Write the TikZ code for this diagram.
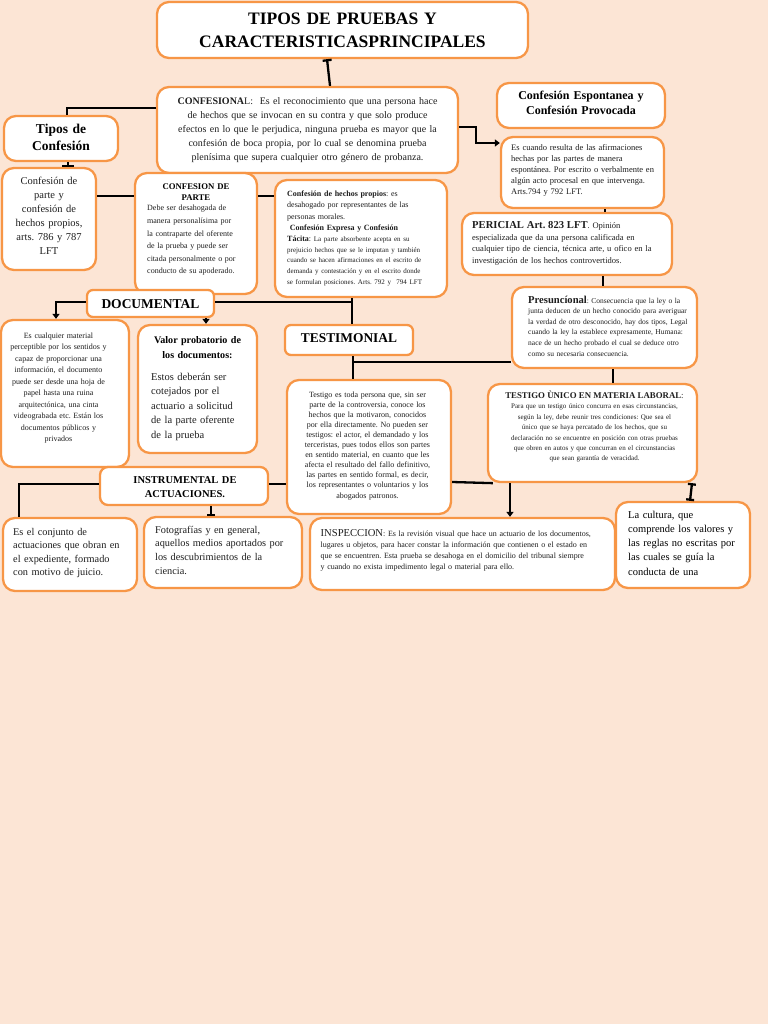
\documentclass[tikz,border=0pt]{standalone}
\usepackage{fontspec}
\setmainfont{Liberation Serif}
\usetikzlibrary{arrows.meta}
\definecolor{bg}{HTML}{FCE5D5}
\definecolor{edge}{HTML}{F79646}
\definecolor{ink}{HTML}{1E1E1E}
\newcommand\fsz[2]{\fontsize{#1}{#2}\selectfont}
\frenchspacing
\tikzset{
  box/.style={draw=edge, line width=2.3pt, rounded corners=12pt, fill=white, inner sep=0pt},
  link/.style={draw=black, line width=2.3pt},
  arr/.style={link, -{Triangle[width=7pt,length=5pt]}},
  txt/.style={inner sep=0pt, text=ink},
  ctxt/.style={txt, anchor=base, align=center},
  ltxt/.style={txt, anchor=base west, align=left},
}
\begin{document}
\begin{tikzpicture}[x=1pt,y=-1pt]
\fill[bg] (0,0) rectangle (768,1024);
\useasboundingbox (0,0) rectangle (768,1024);

% boxes
\node[box, minimum width=371pt, minimum height=56pt] (title) at (342.5,30) {};
\node[box, minimum width=301pt, minimum height=86pt] (conf) at (307.5,130) {};
\node[box, minimum width=114pt, minimum height=45pt] (tipos) at (61,138.5) {};
\node[box, minimum width=168pt, minimum height=45pt] (esp) at (581,105.5) {};
\node[box, minimum width=163pt, minimum height=71pt] (escuando) at (582.5,172.5) {};
\node[box, minimum width=210pt, minimum height=62pt] (pericial) at (567,244) {};
\node[box, minimum width=185pt, minimum height=81pt] (presun) at (604.5,327.5) {};
\node[box, minimum width=209pt, minimum height=98pt] (unico) at (592.5,433) {};
\node[box, minimum width=134pt, minimum height=86pt] (cultura) at (683,545) {};
\node[box, minimum width=94pt, minimum height=102pt] (cparte) at (49,219) {};
\node[box, minimum width=122pt, minimum height=121pt] (cdp) at (196,233.5) {};
\node[box, minimum width=172pt, minimum height=117pt] (hechos) at (361,238.5) {};
\node[box, minimum width=127pt, minimum height=27pt, rounded corners=6pt] (doc) at (150.5,303.5) {};
\node[box, minimum width=128pt, minimum height=147pt] (escual) at (65,393.5) {};
\node[box, minimum width=119pt, minimum height=128pt] (valor) at (197.5,389) {};
\node[box, minimum width=128pt, minimum height=30pt, rounded corners=6pt] (testim) at (349,340) {};
\node[box, minimum width=164pt, minimum height=134pt] (testigo) at (369,447) {};
\node[box, minimum width=168pt, minimum height=38pt, rounded corners=8pt] (instr) at (184,486) {};
\node[box, minimum width=134pt, minimum height=73pt] (conjunto) at (70,554.5) {};
\node[box, minimum width=158pt, minimum height=71pt] (foto) at (223,552.5) {};
\node[box, minimum width=305pt, minimum height=72pt] (insp) at (462.5,554) {};

% connectors
\draw[link, {Bar[width=9pt]}-] ([xshift=-15.5pt]title.south) -- ([xshift=22.5pt]conf.north);
\draw[link] ([yshift=22pt]conf.west) -| ([xshift=6pt]tipos.north);
\draw[arr] ([yshift=3pt]conf.east) -- ++(17,0) |- ([yshift=29.5pt]escuando.west);
\draw[link, -{Bar[width=12pt]}] ([xshift=7pt]tipos.south) -- ([xshift=19pt]cparte.north);
\draw[link] ([yshift=23pt]cparte.east) -- ([yshift=37.5pt]cdp.west);
\draw[link] ([yshift=37.5pt]cdp.east) -- ([yshift=42.5pt]hechos.west);
\coordinate (hs) at ([xshift=-9pt]hechos.south);
\draw[link] (hs) -- ([xshift=3pt]testim.north);
\coordinate (de) at ([yshift=1.5pt]doc.east);
\draw[link] (de) -- (hs |- de);
\draw[arr] ([yshift=1.5pt]doc.west) -| ([xshift=-9pt]escual.north);
\draw[arr] ([xshift=55.5pt]doc.south) -- ([xshift=8.5pt]valor.north);
\coordinate (tv) at ([xshift=4pt]testim.south);
\draw[link] (tv) -- ([xshift=-16pt]testigo.north);
\coordinate (pw) at ([yshift=-34.5pt]presun.west);
\draw[link] (pw) -- (tv |- pw);
\draw[link] ([xshift=22.5pt]escuando.south) -- ([xshift=38pt]pericial.north);
\draw[link] ([xshift=36pt]pericial.south) -- ([xshift=-1.5pt]presun.north);
\draw[link] ([xshift=8.5pt]presun.south) -- ([xshift=20.5pt]unico.north);
\draw[link] ([yshift=2pt]instr.east) -- ([yshift=-37pt]testigo.west);
\draw[link] ([yshift=2pt]instr.west) -| ([xshift=-51pt]conjunto.north);
\draw[link, -{Bar[width=8pt]}] ([xshift=27pt]instr.south) -- ([xshift=-12pt]foto.north);
\draw[link] ([yshift=-35pt]testigo.east) -- ([xshift=6pt]unico.south west);
\draw[arr] ([xshift=-82.5pt]unico.south) -- ([xshift=47.5pt]insp.north);
\draw[link, {Bar[width=8pt]}-{Bar[width=8pt]}] ([xshift=99.5pt]unico.south) -- ([xshift=7pt]cultura.north);

% texts
\node[ctxt, text width=370pt, text=black, font=\bfseries\fsz{17.5}{23}] (ttitle) at (342.5,25)
  {TIPOS DE PRUEBAS Y\\CARACTERISTICASPRINCIPALES};
\node[ctxt, text width=300pt, font=\fsz{10}{14}] (tconf) at (307.5,105)
  {\textbf{CONFESIONA}L:~~Es el reconocimiento que una persona hace\\
   de hechos que se invocan en su contra y que solo produce\\
   efectos en lo que le perjudica, ninguna prueba es mayor que la\\
   confesión de boca propia, por lo cual se denomina prueba\\
   plenísima que supera cualquier otro género de probanza.};
\node[ctxt, text width=110pt, text=black, font=\bfseries\fsz{13.5}{17}] (ttipos) at (61,134)
  {Tipos de\\Confesión};
\node[ctxt, text width=165pt, text=black, font=\bfseries\fsz{12}{15}] (tesp) at (581,100)
  {Confesión Espontanea y\\Confesión Provocada};
\node[ltxt, text width=160pt, font=\fsz{8.5}{11}] (tescuando) at (511,151)
  {Es cuando resulta de las afirmaciones\\
   hechas por las partes de manera\\
   espontánea. Por escrito o verbalmente en\\
   algún acto procesal en que intervenga.\\
   Arts.794 y 792 LFT.};
\node[ltxt, text width=205pt, font=\fsz{8.5}{11.5}] (tpericial) at (472,229)
  {{\bfseries\fsz{10.6}{11.5}PERICIAL Art. 823 LFT}. Opinión\\
   especializada que da una persona calificada en\\
   cualquier tipo de ciencia, técnica arte, u ofico en la\\
   investigación de los hechos controvertidos.};
\node[ltxt, text width=180pt, font=\fsz{7.5}{10.6}] (tpresun) at (528,303)
  {{\bfseries\fsz{10.6}{10.6}Presuncíonal}: Consecuencia que la ley o la\\
   junta deducen de un hecho conocido para averiguar\\
   la verdad de otro desconocido, hay dos tipos, Legal\\
   cuando la ley la establece expresamente, Humana:\\
   nace de un hecho probado el cual se deduce otro\\
   como su necesaria consecuencia.};
\node[ctxt, text width=205pt, font=\fsz{7}{10.4}] (tunico) at (594.5,398.5)
  {{\bfseries\fsz{8.8}{10.4}TESTIGO ÙNICO EN MATERIA LABORAL}{\fsz{8.8}{10.4}:}\\
   Para que un testigo único concurra en esas circunstancias,\\
   según la ley, debe reunir tres condiciones: Que sea el\\
   único que se haya percatado de los hechos, que su\\
   declaración no se encuentre en posición con otras pruebas\\
   que obren en autos y que concurran en el circunstancias\\
   que sean garantía de veracidad.};
\node[ltxt, text width=130pt, text=black, font=\fsz{10.5}{14.3}] (tcultura) at (628,518)
  {La cultura, que\\comprende los valores y\\las reglas no escritas por\\las cuales se guía la\\conducta de una};
\node[ctxt, text width=92pt, font=\fsz{10.5}{14}] (tcparte) at (49,185)
  {Confesión de\\parte y\\confesión de\\hechos propios,\\arts. 786 y 787\\LFT};
\node[ctxt, text width=118pt, text=black, font=\bfseries\fsz{8.7}{11}] (tcdph) at (196,190)
  {CONFESION DE\\PARTE};
\node[ltxt, text width=115pt, font=\fsz{8}{12.6}] (tcdp) at (147,211)
  {Debe ser desahogada de\\manera personalísima por\\la contraparte del oferente\\de la prueba y puede ser\\citada personalmente o por\\conducto de su apoderado.};
\node[ltxt, text width=168pt, font=\fsz{8}{11}] (thechos) at (287,197)
  {\textbf{Confesión de hechos propios}: es\\
   desahogado por representantes de las\\
   personas morales.\\
   \textbf{~Confesión Expresa y Confesión}\\
   \textbf{Tácita}: {\fsz{7}{11}La parte absorbente acepta en su}\\
   {\fsz{7}{11}prejuicio hechos que se le imputan y también}\\
   {\fsz{7}{11}cuando se hacen afirmaciones en el escrito de}\\
   {\fsz{7}{11}demanda y contestación y en el escrito donde}\\
   {\fsz{7}{11}se formulan posiciones. Arts. 792 y~~794 LFT}};
\node[ctxt, text width=125pt, text=black, font=\bfseries\fsz{13.5}{15}] (tdoc) at (150.5,308)
  {DOCUMENTAL};
\node[ctxt, text width=126pt, font=\fsz{8}{11.5}] (tescual) at (58.5,338)
  {Es cualquier material\\perceptible por los sentidos y\\capaz de proporcionar una\\información, el documento\\puede ser desde una hoja de\\papel hasta una ruina\\arquitectónica, una cinta\\videograbada etc. Están los\\documentos públicos y\\privados};
\node[ctxt, text width=117pt, text=black, font=\bfseries\fsz{10.1}{15}] (tvalorh) at (197.5,343)
  {Valor probatorio de\\los documentos:};
\node[ltxt, text width=100pt, font=\fsz{10.5}{14.5}] (tvalor) at (151,380)
  {\makebox[93pt][s]{Estos deberán ser}\\
   \makebox[93pt][s]{cotejados por el}\\
   \makebox[93pt][s]{actuario a solicitud}\\
   \makebox[93pt][s]{de la parte oferente}\\
   de la prueba};
\node[ctxt, text width=126pt, text=black, font=\bfseries\fsz{13.4}{15}] (ttestim) at (349,342)
  {TESTIMONIAL};
\node[ctxt, text width=162pt, font=\fsz{8}{10.1}] (ttestigo) at (367.5,397)
  {Testigo es toda persona que, sin ser\\parte de la controversia, conoce los\\hechos que la motivaron, conocidos\\por ella directamente. No pueden ser\\testigos: el actor, el demandado y los\\terceristas, pues todos ellos son partes\\en sentido material, en cuanto que les\\afecta el resultado del fallo definitivo,\\las partes en sentido formal, es decir,\\los representantes o voluntarios y los\\abogados patronos.};
\node[ctxt, text width=165pt, text=black, font=\bfseries\fsz{10.5}{14}] (tinstr) at (185,483)
  {INSTRUMENTAL DE\\ACTUACIONES.};
\node[ltxt, text width=130pt, font=\fsz{10.3}{13.5}] (tconjunto) at (13,535)
  {Es el conjunto de\\actuaciones que obran en\\el expediente, formado\\con motivo de juicio.};
\node[ltxt, text width=150pt, font=\fsz{10.3}{13.7}] (tfoto) at (155,533)
  {Fotografías y en general,\\aquellos medios aportados por\\los descubrimientos de la\\ciencia.};
\node[ltxt, text width=300pt, font=\fsz{8}{11.3}] (tinsp) at (320.5,536)
  {{\fsz{10.6}{11.3}INSPECCION}: Es la revisión visual que hace un actuario de los documentos,\\
   lugares u objetos, para hacer constar la información que contienen o el estado en\\
   que se encuentren. Esta prueba se desahoga en el domicilio del tribunal siempre\\
   y cuando no exista impedimento legal o material para ello.};
\end{tikzpicture}
\end{document}
